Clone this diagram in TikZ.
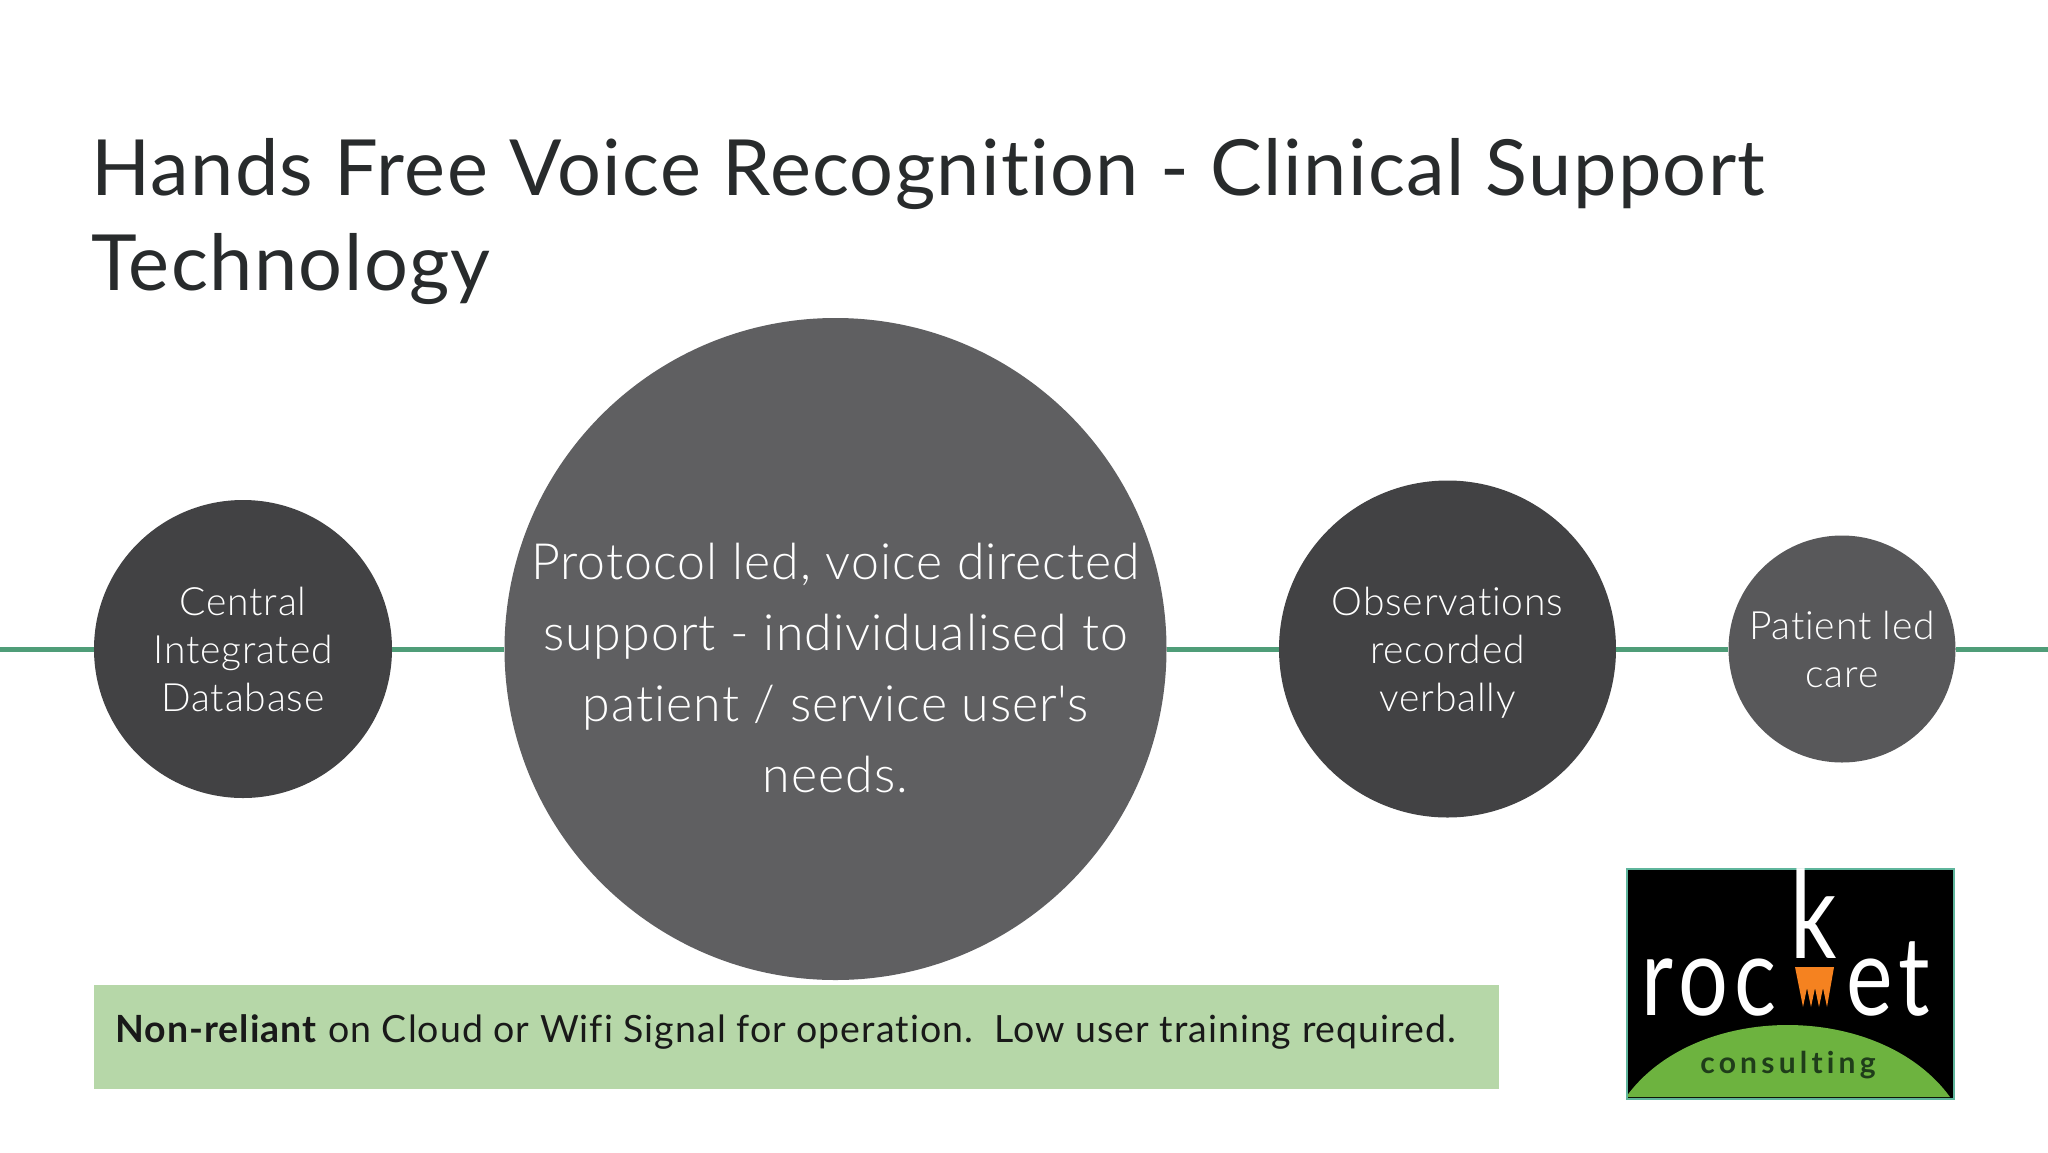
\documentclass[tikz,border=0pt]{standalone}
\usepackage{fontspec}
\setmainfont{Lato}[UprightFont=* Light,BoldFont=* Bold,Ligatures=NoCommon]
\newfontfamily\discfont{Lato}[UprightFont=* Light,LetterSpace=2.1,Ligatures=NoCommon]
\newfontfamily\titlefont{Lato}[LetterSpace=1.8,Ligatures=NoCommon]
\newfontfamily\notefont{Lato}[BoldFont=* Bold,LetterSpace=2.7,Ligatures=NoCommon]
\newfontfamily\logofont{Lato}[LetterSpace=7]
\newfontfamily\logospaced{Lato}[UprightFont=* Bold,LetterSpace=14,Ligatures=NoCommon]
\definecolor{titleink}{HTML}{282B2C}
\definecolor{darkdisc}{HTML}{424244}
\definecolor{middisc}{HTML}{5F5F61}
\definecolor{softdisc}{HTML}{58585A}
\definecolor{linegreen}{HTML}{4F9D78}
\definecolor{panelgreen}{HTML}{B6D7A8}
\definecolor{logogreen}{HTML}{6DB33F}
\definecolor{logoorange}{HTML}{F58220}
\definecolor{logoedge}{HTML}{5FB59C}
\definecolor{logoink}{HTML}{1F3D1A}
\tikzset{
  disc/.style={circle,inner sep=0pt,text=white,align=center},
  small disc text/.style={font=\fontsize{39}{48}\discfont},
  link/.style={linegreen,line width=5pt},
  logoletter/.style={text=white,inner sep=0pt,anchor=base},
  title line/.style={anchor=base west,inner sep=0pt,text=titleink,font=\fontsize{77.5}{96}\titlefont},
}
\begin{document}
\begin{tikzpicture}[x=1pt,y=-1pt]
\useasboundingbox (0,0) rectangle (2048,1152);
\fill[white] (0,0) rectangle (2048,1152);
% title
\node[title line] (title1) at (91,195) {Hands Free Voice Recognition - Clinical Support};
\node[title line] (title2) at (91,290) {Technology};
% discs
\node[disc,fill=darkdisc,minimum size=298pt,small disc text] (central) at (243,649) {Central\\Integrated\\Database};
\node[disc,fill=middisc,minimum size=662pt] (protocol) at (835.5,649) {};
\node[anchor=center,inner sep=0pt,text=white,align=center,font=\fontsize{50}{71}\discfont] (protocoltext) at (835.5,668) {Protocol led, voice directed\\support - individualised to\\patient / service user\textquotesingle s\\needs.};
\node[disc,fill=darkdisc,minimum size=337pt,small disc text] (obs) at (1447.5,649) {Observations\\recorded\\\raisebox{0pt}[\height][0pt]{verbally}};
\node[disc,fill=softdisc,minimum size=227pt,small disc text] (patient) at (1842,649) {Patient led\\care};
% connectors
\coordinate (leftend) at (0,649);
\coordinate (rightend) at (2048,649);
\draw[link] (leftend) -- (central.west);
\draw[link] (central.east) -- (protocol.west);
\draw[link] (protocol.east) -- (obs.west);
\draw[link] (obs.east) -- (patient.west);
\draw[link] (patient.east) -- (rightend);
% panel
\fill[panelgreen] (94,985) rectangle (1499,1089);
\node[anchor=base west,inner sep=0pt,text=black!90,font=\fontsize{37.5}{48}\notefont] (note) at (115,1042) {\textbf{Non-reliant} on Cloud or Wifi Signal for operation.\ \ Low user training required.};
% logo
\fill[black] (1627,869) rectangle (1954,1099);
\fill[logogreen] (1626,1097) .. controls (1695,1001) and (1880,1001) .. (1950,1097) -- cycle;
\draw[logoedge,line width=1.5pt] (1627,869) rectangle (1954,1099);
\node[logoletter,font=\fontsize{110}{110}\logofont] (roc) at (1709,1015) {\scalebox{.8}[1]{roc}};
\node[logoletter,font=\fontsize{110}{110}\logofont] (et) at (1888,1015) {\scalebox{.8}[1]{et}};
\node[logoletter,font=\fontsize{122}{122}\logofont] (kay) at (1813.5,958) {\scalebox{.75}[1]{k}};
\fill[logoorange] (1795,967) -- (1834,967) -- (1827,1007) -- (1823,988) -- (1819,1007) -- (1815,988) -- (1811,1007) -- (1807,988) -- (1803,1007) -- cycle;
\node[anchor=base,inner sep=0pt,text=logoink,font=\fontsize{30}{30}\logospaced] (consulting) at (1788,1073) {consulting};
\end{tikzpicture}
\end{document}
